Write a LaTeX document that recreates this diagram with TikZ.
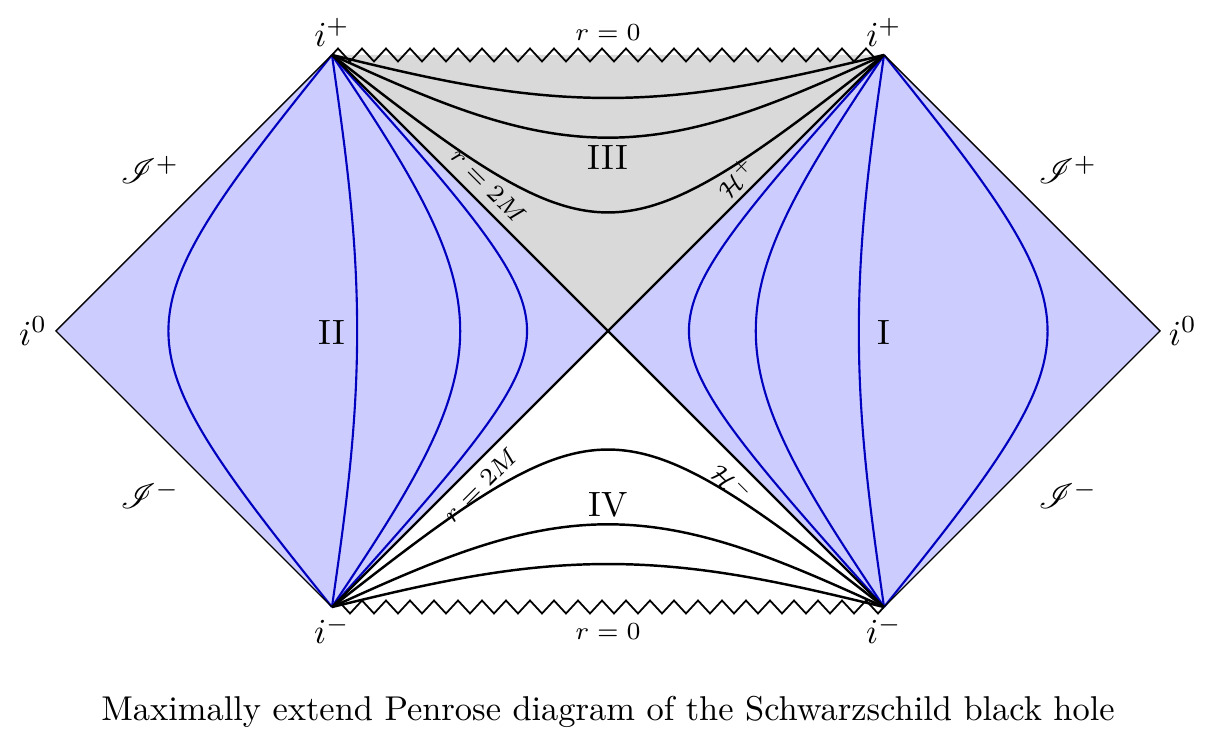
\documentclass[tikz,border=0pt]{standalone}
\usepackage{mathrsfs}
\usetikzlibrary{decorations.pathmorphing}

\begin{document}
\begin{tikzpicture}[
    outerline/.style={black, line width=0.4pt},
    horizon/.style={black, line width=0.7pt},
    rline/.style={blue!75!black, line width=0.6pt},
    tline/.style={black, line width=0.7pt},
    sing/.style={black, line width=0.5pt, decorate, decoration={zigzag, segment length=2.4mm, amplitude=0.65mm}},
    hlab/.style={font=\scriptsize, sloped, inner sep=2.5pt},
    zlab/.style={font=\scriptsize}
  ]
    \useasboundingbox (-6.08,-4.23) rectangle (6.10,3.31);
    \def\R{2.76}
    \def\s{0.0306667}

    \coordinate (c) at (0,0);
    \coordinate (tl) at (-\R,\R);
    \coordinate (tr) at (\R,\R);
    \coordinate (bl) at (-\R,-\R);
    \coordinate (br) at (\R,-\R);
    \coordinate (iL) at (-2*\R,0);
    \coordinate (iR) at (2*\R,0);

    % regions
    \fill[blue!20] (c) -- (tr) -- (iR) -- (br) -- cycle;
    \fill[blue!20] (c) -- (tl) -- (iL) -- (bl) -- cycle;
    \fill[black!15] (tl) -- (tr) -- (c) -- cycle;

    % constant r curves outside the horizon
    \foreach \k in {0.055,0.2,0.75,9.1} {
      \draw[rline] plot[smooth, domain=0:90, samples=181, variable=\v]
        ({(\v+atan2(\k*cos(\v),sin(\v)))*\s},{(\v-atan2(\k*cos(\v),sin(\v)))*\s});
      \draw[rline] plot[smooth, domain=0:90, samples=181, variable=\v]
        ({-(\v+atan2(\k*cos(\v),sin(\v)))*\s},{(\v-atan2(\k*cos(\v),sin(\v)))*\s});
    }
    % constant r curves inside the horizon
    \foreach \k in {0.123,0.376,0.61} {
      \draw[tline] plot[smooth, domain=0:90, samples=181, variable=\v]
        ({(\v-atan2(\k*cos(\v),sin(\v)))*\s},{(\v+atan2(\k*cos(\v),sin(\v)))*\s});
      \draw[tline] plot[smooth, domain=0:90, samples=181, variable=\v]
        ({(\v-atan2(\k*cos(\v),sin(\v)))*\s},{-(\v+atan2(\k*cos(\v),sin(\v)))*\s});
    }

    \draw[outerline] (tl) -- (iL) -- (bl);
    \draw[outerline] (tr) -- (iR) -- (br);

    \draw[horizon] (tl) -- (c) node[hlab, pos=0.52, above] (h1) {$r=2M$};
    \draw[horizon] (c) -- (tr) node[hlab, pos=0.51, above, inner sep=1.5pt] (h2) {$\mathcal{H}^+$};
    \draw[horizon] (bl) -- (c) node[hlab, pos=0.49, below] (h3) {$r=2M$};
    \draw[horizon] (c) -- (br) node[hlab, pos=0.5, below, inner sep=2pt] (h4) {$\mathcal{H}^-$};

    \draw[sing] (tl) -- (tr);
    \draw[sing] (bl) -- (br);

    % labels
    \node[above=-1pt] (ptl) at (tl) {$i^+$};
    \node[above=-1pt] (ptr) at (tr) {$i^+$};
    \node[below=-1pt] (pbl) at (bl) {$i^-$};
    \node[below=-1pt] (pbr) at (br) {$i^-$};
    \node[left=-1pt] (zl) at (iL) {$i^0$};
    \node[right=-1pt] (zr) at (iR) {$i^0$};
    \node[zlab] (rt) at (0,2.98) {$r=0$};
    \node[zlab] (rb) at (0,-3.01) {$r=0$};

    \node (sl1) at (-4.58,1.61) {$\mathscr{I}^+$};
    \node (sl2) at (-4.58,-1.64) {$\mathscr{I}^-$};
    \node (sr1) at (4.6,1.61) {$\mathscr{I}^+$};
    \node (sr2) at (4.6,-1.64) {$\mathscr{I}^-$};

    \node (reg1) at (\R,-0.02) {I};
    \node (reg2) at (-\R,-0.02) {II};
    \node (reg3) at (0,1.73) {III};
    \node (reg4) at (0,-1.74) {IV};

    \node[scale=0.98] (caption) at (0,-3.81) {Maximally extend Penrose diagram of the Schwarzschild black hole};
  \end{tikzpicture}
\end{document}
